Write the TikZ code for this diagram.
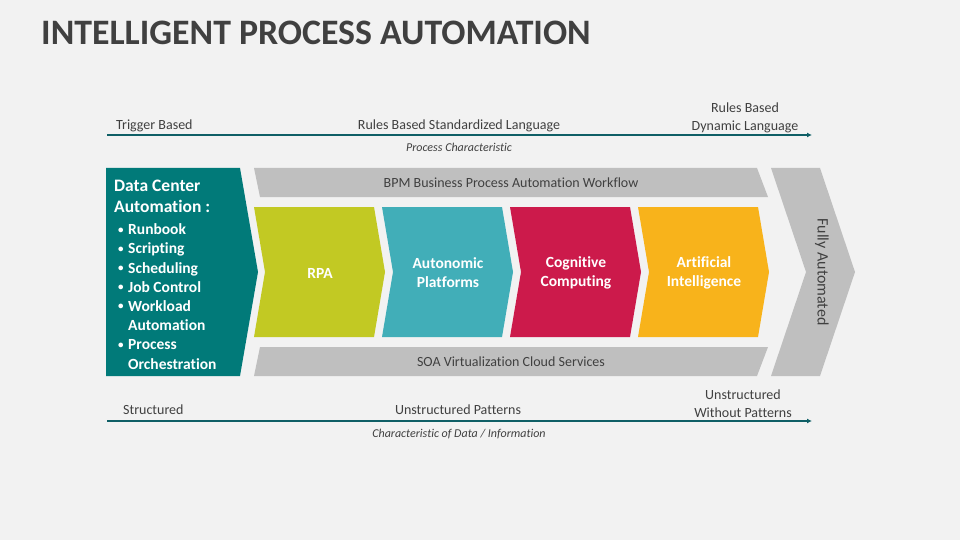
\documentclass[tikz,border=0pt]{standalone}
\usepackage{fontspec}
\setmainfont[Ligatures=NoCommon]{Carlito}
\usetikzlibrary{arrows.meta}

\definecolor{pageGray}{HTML}{F2F2F2}
\definecolor{inkGray}{HTML}{404040}
\definecolor{bandGray}{HTML}{BFBFBF}
\definecolor{axisTeal}{HTML}{0F5F66}
\definecolor{dcTeal}{HTML}{017A79}
\definecolor{rpaLime}{HTML}{C2C923}
\definecolor{autoTeal}{HTML}{41AEB8}
\definecolor{cogRed}{HTML}{CC1A4B}
\definecolor{aiOrange}{HTML}{F8B31B}

\newcommand{\dcitem}{\makebox[10pt][l]{\raisebox{1.5pt}{\fontsize{11}{11}\selectfont\textbullet}}}

\begin{document}
\begin{tikzpicture}[x=1pt, y=-1pt,
    axislabel/.style={font=\fontsize{14}{18}\selectfont, text=inkGray,
        align=center, inner sep=0pt},
    axiscaption/.style={font=\fontsize{12}{14}\selectfont\itshape, text=inkGray,
        inner sep=0pt},
    axis/.style={draw=axisTeal, line width=1.6pt, -{Latex[length=5pt,width=5pt]}},
    bandtext/.style={font=\fontsize{14}{16}\selectfont, text=inkGray, inner sep=0pt},
    chevtext/.style={font=\fontsize{15.5}{19}\selectfont\bfseries, text=white,
        align=center, inner sep=0pt}
]
    \fill[pageGray] (0,0) rectangle (960,540);
    \useasboundingbox (0,0) rectangle (960,540);

    \node[anchor=base west, inner sep=0pt, text=inkGray,
        font=\fontsize{35.8}{40}\selectfont\bfseries] (title) at (41,45)
        {INTELLIGENT PROCESS AUTOMATION};

    % process characteristic axis
    \coordinate (topstart) at (107,135);
    \coordinate (topend) at (812,135);
    \draw[axis] (topstart) -- (topend);
    \node[axislabel, anchor=base west] (trigger) at (116,130) {Trigger Based};
    \node[axislabel, anchor=base] (standard) at (459,130) {Rules Based Standardized Language};
    \node[axislabel, anchor=base] (dynamic) at (745,131) {Rules Based\\Dynamic Language};
    \node[axiscaption, anchor=base] (proccap) at (459,152) {Process Characteristic};

    % data center block
    \fill[dcTeal] (106,168) -- (240,168) -- (258,272) -- (240,376) -- (106,376) -- cycle;
    \node[anchor=base west, inner sep=0pt, text=white, align=left,
        font=\fontsize{17.5}{21}\selectfont\bfseries] (dchead) at (114,212)
        {Data Center\\Automation :};
    \node[anchor=base west, inner sep=0pt, text=white, align=left,
        font=\fontsize{15.5}{19.2}\selectfont\bfseries] (dclist) at (118,369)
        {\dcitem Runbook\\
         \dcitem Scripting\\
         \dcitem Scheduling\\
         \dcitem Job Control\\
         \dcitem Workload\\
         \makebox[10pt][l]{}Automation\\
         \dcitem Process\\
         \makebox[10pt][l]{}Orchestration};

    % gray bands
    \fill[bandGray] (254,168) -- (757,168) -- (768,197) -- (260,197) -- cycle;
    \node[bandtext] (bpm) at (511,183) {BPM Business Process Automation Workflow};
    \fill[bandGray] (260,347) -- (768,347) -- (757,376) -- (254,376) -- cycle;
    \node[bandtext] (soa) at (511,362) {SOA Virtualization Cloud Services};

    % stages
    \foreach \x/\col/\name/\txt in {254/rpaLime/rpa/{RPA},
        382/autoTeal/auton/{Autonomic\\Platforms},
        510/cogRed/cogn/{Cognitive\\Computing},
        638/aiOrange/artif/{Artificial\\Intelligence}}{
        \fill[\col] (\x,207) -- ++(120,0) -- ++(11,65) -- ++(-11,65)
            -- ++(-120,0) -- ++(11,-65) -- cycle;
        \node[chevtext] (\name) at (\x+66,273) {\txt};
    }

    \fill[bandGray] (771,168) -- (820,168) -- (855,272) -- (820,376) -- (771,376)
        -- (806,272) -- cycle;
    \node[rotate=-90, inner sep=0pt, text=inkGray,
        font=\fontsize{16}{18}\selectfont] (fully) at (822,272) {Fully Automated};

    % data characteristic axis
    \coordinate (botstart) at (107,421);
    \coordinate (botend) at (812,421);
    \draw[axis] (botstart) -- (botend);
    \node[axislabel, anchor=base west] (struct) at (123,414) {Structured};
    \node[axislabel, anchor=base] (patterns) at (458,414) {Unstructured Patterns};
    \node[axislabel, anchor=base] (nopattern) at (743,417) {Unstructured\\Without Patterns};
    \node[axiscaption, anchor=base] (datacap) at (459,437) {Characteristic of Data / Information};
\end{tikzpicture}
\end{document}
